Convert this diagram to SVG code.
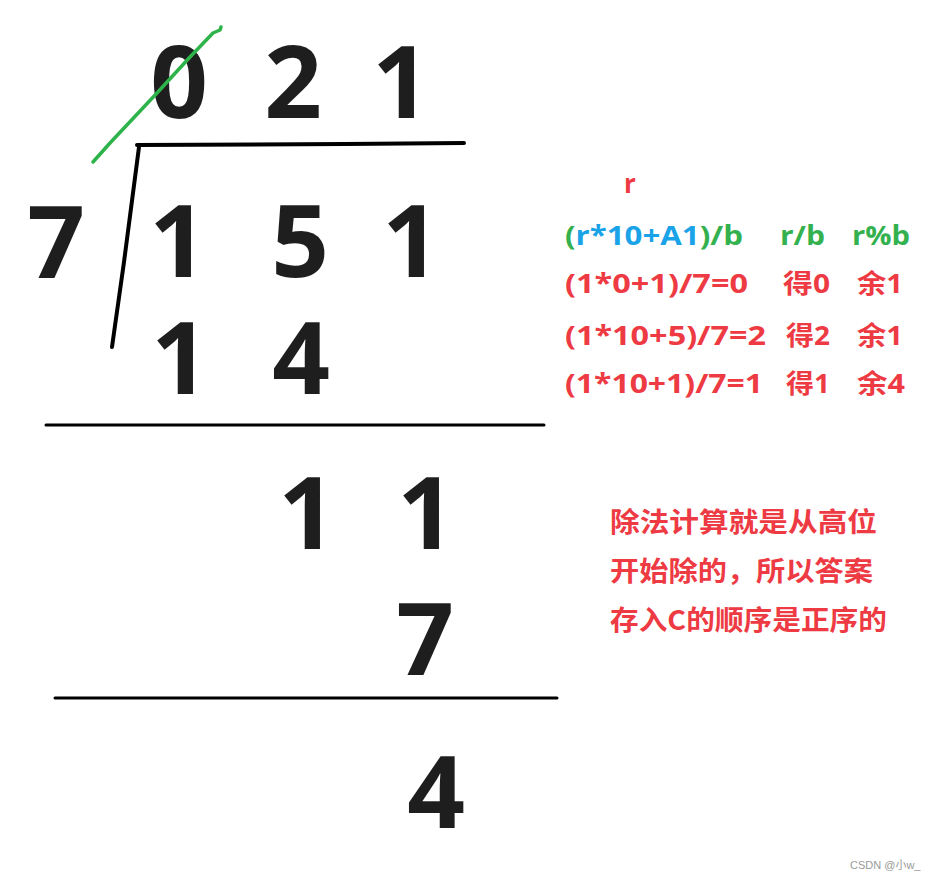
<svg xmlns="http://www.w3.org/2000/svg" width="928" height="879" viewBox="0 0 928 879">
<style>
.big{font-family:"Open Sans","DejaVu Sans",sans-serif;font-weight:bold;font-size:101px;fill:#1e1e1e;text-anchor:middle}
.f{font-family:"Open Sans","Noto Sans CJK SC",sans-serif;font-weight:bold;font-size:26px}
.cjk{font-family:"Noto Sans CJK SC",sans-serif;font-weight:bold;font-size:27px;fill:#ee3a43}
.red{fill:#ee3a43}.green{fill:#33b14e}.blue{fill:#1aa3e8}
.ln{stroke:#000;fill:none;stroke-linecap:round}
</style>
<rect width="928" height="879" fill="#fff"/>
<g id="digits">
<text class="big" x="179" y="118">0</text>
<text class="big" x="293" y="118">2</text>
<text class="big" x="401" y="118">1</text>
<text class="big" x="56" y="278">7</text>
<text class="big" x="178" y="277">1</text>
<text class="big" x="300" y="277">5</text>
<text class="big" x="411" y="277">1</text>
<text class="big" x="180" y="394">1</text>
<text class="big" x="301" y="394">4</text>
<text class="big" x="307" y="549">1</text>
<text class="big" x="426" y="549">1</text>
<text class="big" x="425" y="675">7</text>
<text class="big" x="436" y="828">4</text>
</g>
<g id="lines">
<path class="ln" d="M137 145 L345 144 L464 143" stroke-width="4"/>
<path class="ln" d="M139 147 L124 262 L112 347" stroke-width="4"/>
<path class="ln" d="M46 425 L544 425" stroke-width="3"/>
<path class="ln" d="M55 698 L557 698" stroke-width="3"/>
<path d="M93 162 L110 143 L157 93 L190 57 L213 33 L220 30 L221 27" stroke="#2db34a" stroke-width="3.5" fill="none" stroke-linecap="round" stroke-linejoin="round"/>
</g>
<g id="table">
<text class="f red" x="624" y="193">r</text>
<text class="f" x="565" y="245" textLength="178" lengthAdjust="spacingAndGlyphs"><tspan class="green">(</tspan><tspan class="blue">r*10+A1</tspan><tspan class="green">)/b</tspan></text>
<text class="f green" x="780" y="245" textLength="45" lengthAdjust="spacingAndGlyphs">r/b</text>
<text class="f green" x="852" y="245" textLength="58" lengthAdjust="spacingAndGlyphs">r%b</text>
<text class="f red" x="565" y="293" textLength="183" lengthAdjust="spacingAndGlyphs">(1*0+1)/7=0</text>
<text class="f red" x="783" y="293" textLength="47" lengthAdjust="spacingAndGlyphs">得0</text>
<text class="f red" x="857" y="293" textLength="46" lengthAdjust="spacingAndGlyphs">余1</text>
<text class="f red" x="565" y="345" textLength="201" lengthAdjust="spacingAndGlyphs">(1*10+5)/7=2</text>
<text class="f red" x="786" y="345" textLength="44" lengthAdjust="spacingAndGlyphs">得2</text>
<text class="f red" x="857" y="345" textLength="46" lengthAdjust="spacingAndGlyphs">余1</text>
<text class="f red" x="565" y="393" textLength="198" lengthAdjust="spacingAndGlyphs">(1*10+1)/7=1</text>
<text class="f red" x="786" y="393" textLength="44" lengthAdjust="spacingAndGlyphs">得1</text>
<text class="f red" x="857" y="393" textLength="48" lengthAdjust="spacingAndGlyphs">余4</text>
</g>
<g id="note">
<text class="cjk" x="610" y="532" textLength="267" lengthAdjust="spacingAndGlyphs">除法计算就是从高位</text>
<text class="cjk" x="610" y="581" textLength="263" lengthAdjust="spacingAndGlyphs">开始除的，所以答案</text>
<text class="cjk" x="610" y="630" textLength="277" lengthAdjust="spacingAndGlyphs">存入C的顺序是正序的</text>
</g>
<text x="850" y="869" font-family="Liberation Sans,Noto Sans CJK SC,sans-serif" font-size="11" fill="#999">CSDN @小w_</text>
</svg>
